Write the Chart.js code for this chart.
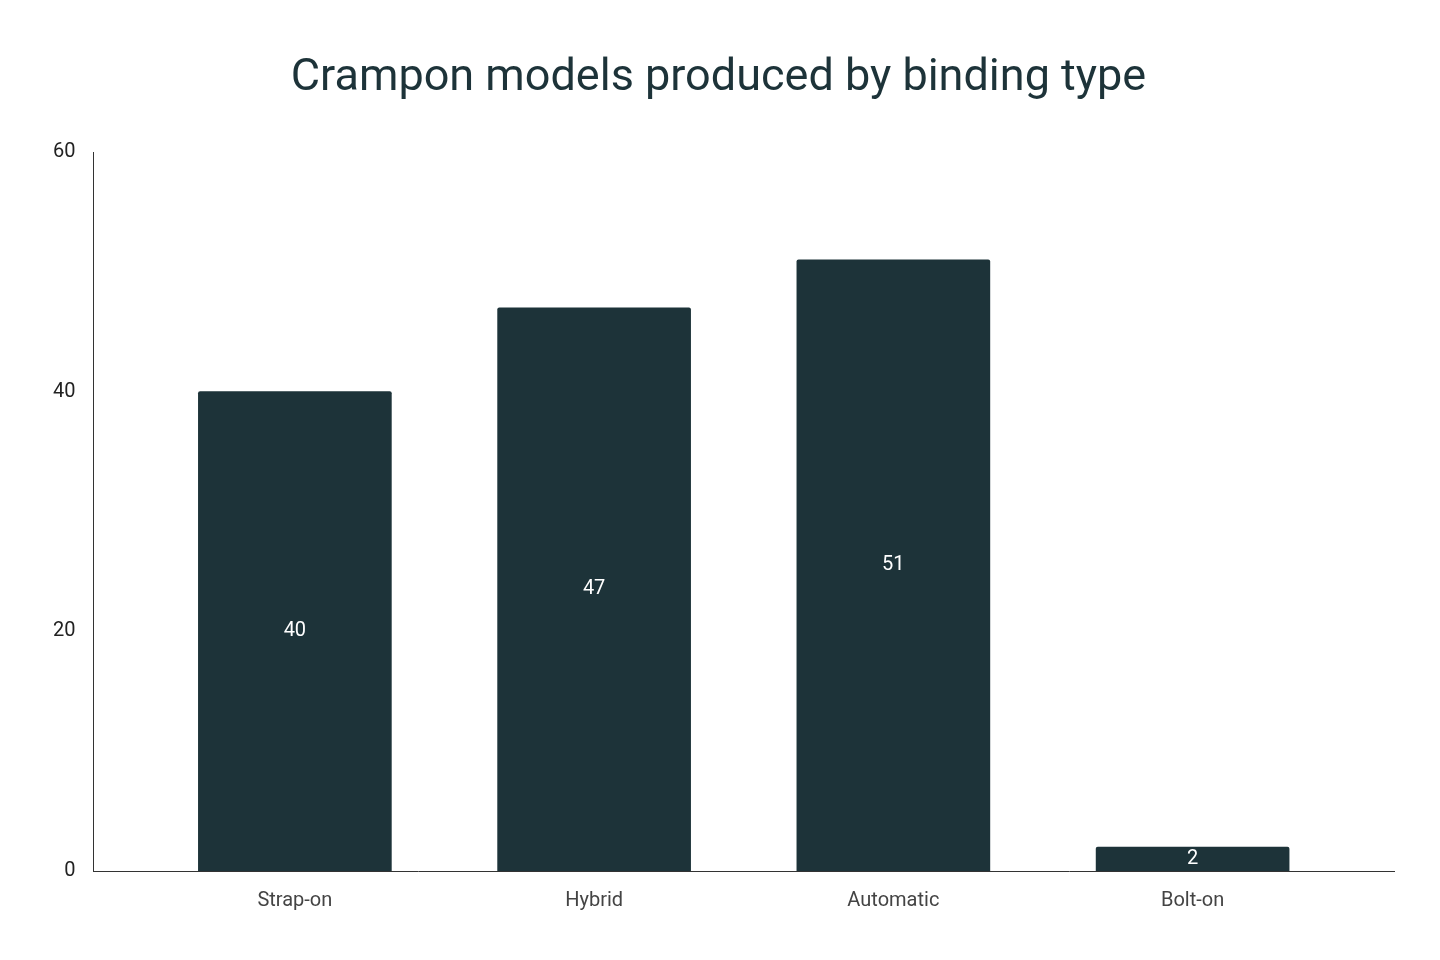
<!DOCTYPE html>
<html><head><meta charset="utf-8">
<script src="https://cdn.jsdelivr.net/npm/chart.js@4"></script>
<style>html,body{margin:0;padding:0;background:#fff}#w{width:1440px;height:960px}</style>
</head><body><div id="w"><canvas id="c"></canvas></div>
<script>
const categories = ["Strap-on","Hybrid","Automatic","Bolt-on"];
const values = [40,47,51,2];
const yTicks = [0,20,40,60];
const labelPlugin = {
  id:'lbl',
  afterDatasetsDraw(chart){
    const ctx=chart.ctx, meta=chart.getDatasetMeta(0);
    ctx.save();ctx.fillStyle='#fff';ctx.font='20px Roboto';ctx.textAlign='center';ctx.textBaseline='middle';
    meta.data.forEach((b,i)=>{ctx.fillText(String(values[i]), b.x, (b.y+b.base)/2);});
    ctx.restore();
  }
};
new Chart(document.getElementById('c'),{
  type:'bar',
  data:{datasets:[{data:values.map((v,i)=>({x:i,y:v})),backgroundColor:'#1d3339',barThickness:193,borderRadius:2}]},
  options:{
    responsive:true,maintainAspectRatio:false,animation:false,
    layout:{padding:{left:43,right:46,top:20,bottom:37}},
    plugins:{legend:{display:false},tooltip:{enabled:false},
      title:{display:true,text:'Crampon models produced by binding type',color:'#1d3339',font:{family:'Roboto',size:45,weight:'normal'},padding:{top:32,bottom:46}}},
    scales:{
      x:{type:'linear',min:-0.673,max:3.673,offset:false,
        afterBuildTicks(ax){ax.ticks=categories.map((c,i)=>({value:i}));},
        grid:{display:false},border:{display:true,color:'#333'},
        ticks:{color:'#444',font:{family:'Roboto',size:20},padding:10,callback:(v)=>categories[v]}},
      y:{min:0,max:60,afterBuildTicks(ax){ax.ticks=yTicks.map(v=>({value:v}));},
        grid:{display:false},border:{display:true,color:'#333'},ticks:{color:'#222',font:{family:'Roboto',size:20},padding:10}}
    }
  },
  plugins:[labelPlugin]
});
</script></body></html>
